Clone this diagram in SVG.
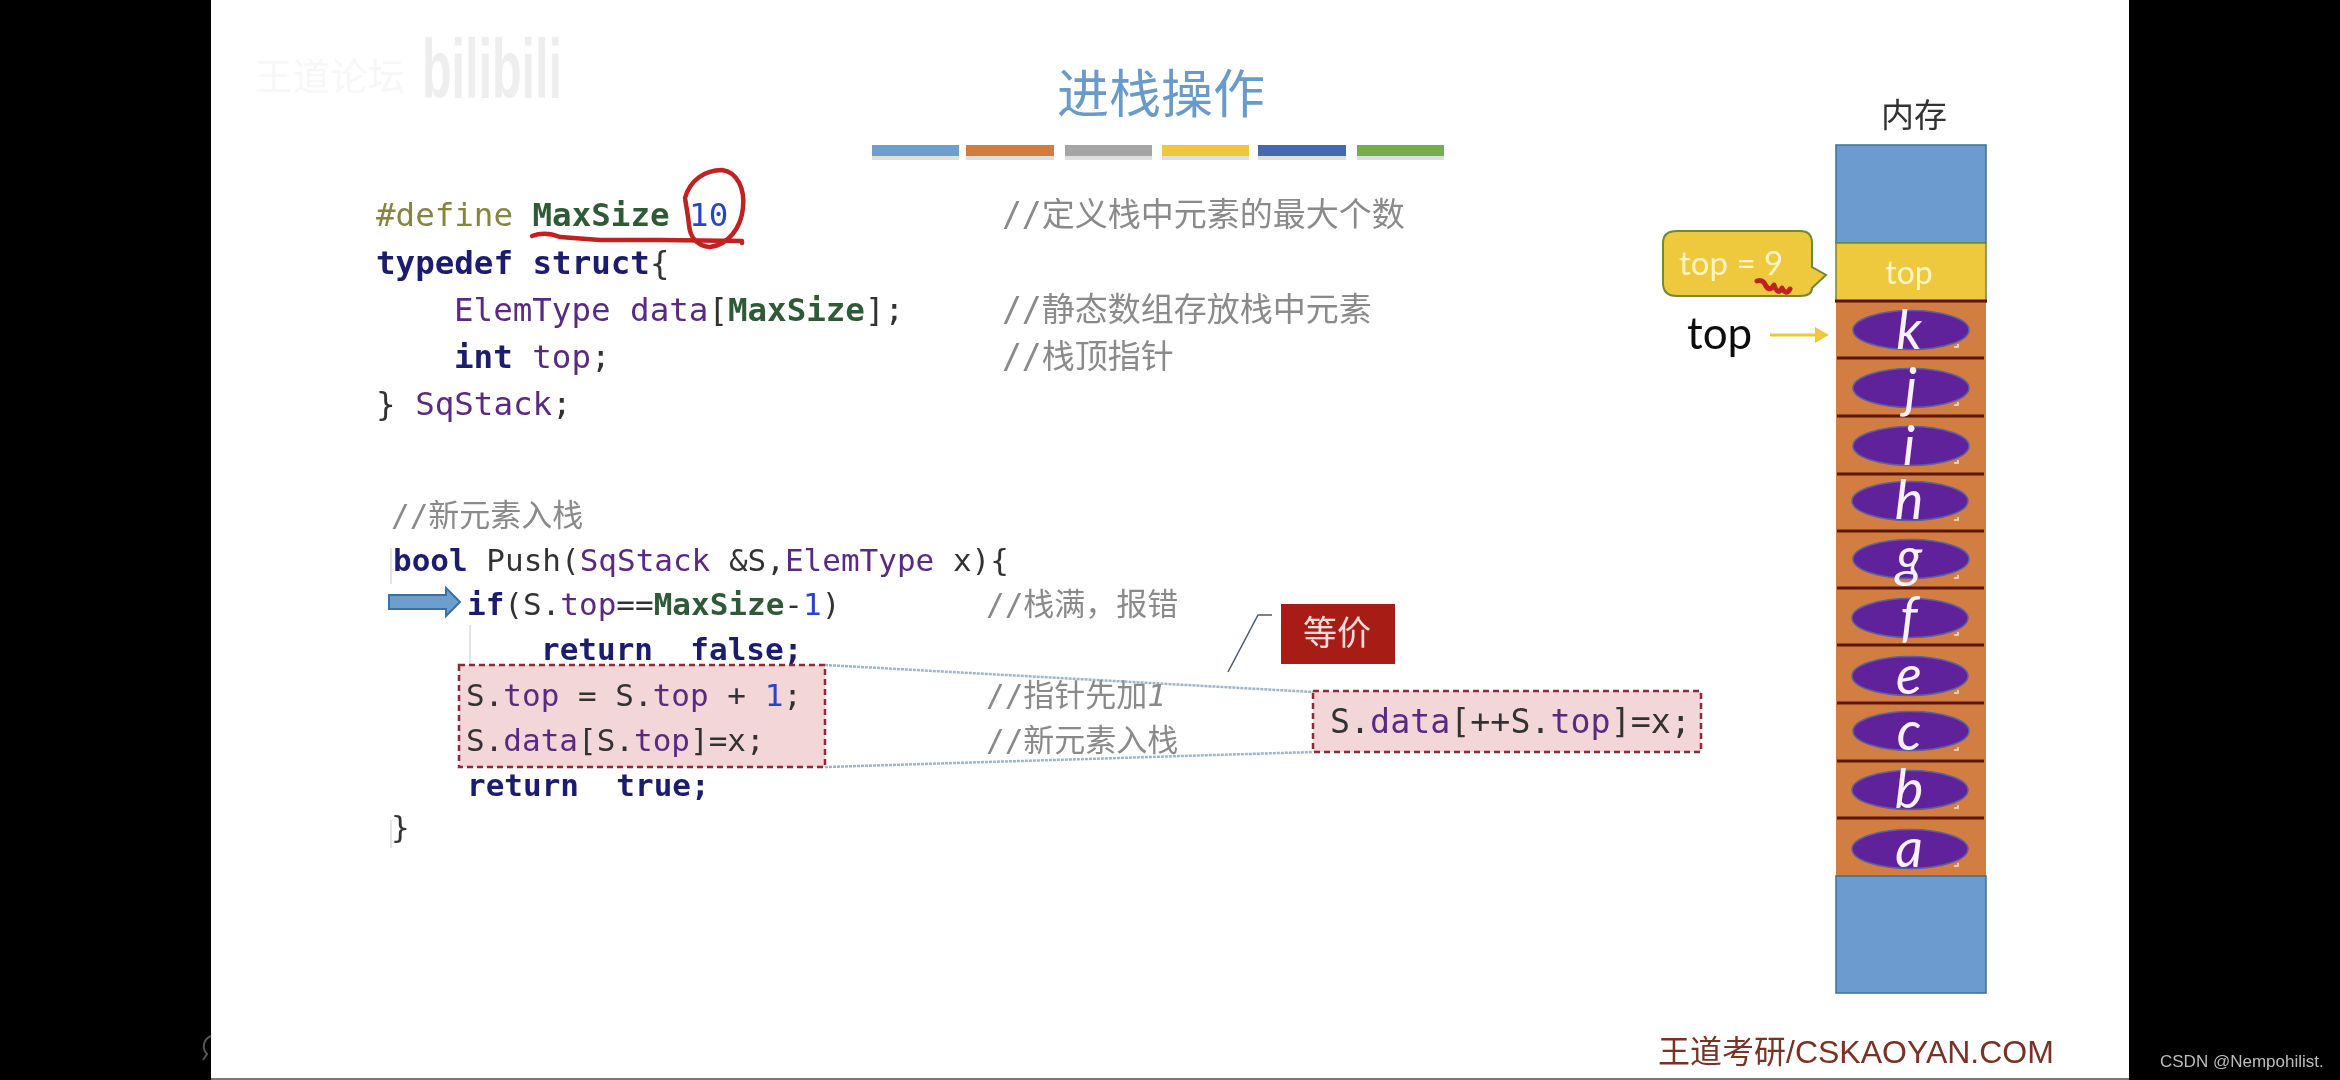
<svg xmlns="http://www.w3.org/2000/svg" width="2340" height="1080" viewBox="0 0 2340 1080">
<defs><filter id="soft" x="0" y="0" width="100%" height="100%"><feGaussianBlur stdDeviation="0.6"/></filter></defs>
<style>
.c{font-family:"DejaVu Sans Mono","Noto Sans CJK SC",monospace;font-size:32.5px;white-space:pre;fill:#333}
.cm{font-family:"DejaVu Sans Mono","Noto Sans CJK SC",monospace;font-size:33px;white-space:pre;fill:#8a8a8a}
.p{font-size:31px}
.k{font-weight:bold;fill:#1c1c6e}
.m{font-weight:bold;fill:#2f5a37}
.f{fill:#5a2a82}
.n{fill:#2b45c4}
.d{fill:#85853f}
.cell{fill:#d27d42}
.sep{stroke:#5a1400;stroke-width:3}
.el{fill:#60249a;stroke:#5d5f9e;stroke-width:1.5}
.let{font-family:"Lato","Liberation Sans",sans-serif;font-style:italic;font-size:54px;fill:#f6f0ff;text-anchor:middle}
.box{fill:#f2d6d8;stroke:#8c2a35;stroke-width:2.5;stroke-dasharray:6 4}
.bar{stroke:none}
.sh{fill:#b8b8b8;opacity:.45}
.ink{fill:none;stroke:#c02020;stroke-linecap:round;stroke-linejoin:round}
.mark{fill:none;stroke:#f6e6d2;stroke-width:1.5}
.guide{stroke:#dcdcdc;stroke-width:1.5}
</style>
<g filter="url(#soft)">
<rect width="2340" height="1080" fill="#000"/>
<rect x="211" y="0" width="1918" height="1078" fill="#fff"/>
<rect x="211" y="1078" width="1918" height="2" fill="#777"/>
<path d="M211 1036A11 11 0 0 0 207 1054L203 1060" fill="none" stroke="#555" stroke-width="2"/>
<g id="watermark" font-family="Noto Sans CJK SC,sans-serif">
<text x="255" y="90" font-size="37.5" fill="#f7f7f7">王道论坛</text>
<text x="422" y="98" font-size="84" font-weight="bold" font-family="Liberation Sans,sans-serif" textLength="140" lengthAdjust="spacingAndGlyphs" fill="#eeeeee">bilibili</text>
</g>
<g id="title">
<text x="1161" y="113" font-size="52" text-anchor="middle" fill="#6a9ac8" font-family="Noto Sans CJK SC,sans-serif">进栈操作</text>
<rect class="sh" x="872" y="156" width="87" height="4"/><rect class="sh" x="966" y="156" width="88" height="4"/><rect class="sh" x="1065" y="156" width="87" height="4"/><rect class="sh" x="1162" y="156" width="87" height="4"/><rect class="sh" x="1258" y="156" width="88" height="4"/><rect class="sh" x="1357" y="156" width="87" height="4"/>
<rect class="bar" x="872" y="145" width="87" height="11" fill="#6c9fce"/>
<rect class="bar" x="966" y="145" width="88" height="11" fill="#d27b3f"/>
<rect class="bar" x="1065" y="145" width="87" height="11" fill="#a5a5a5"/>
<rect class="bar" x="1162" y="145" width="87" height="11" fill="#efc73d"/>
<rect class="bar" x="1258" y="145" width="88" height="11" fill="#4468b0"/>
<rect class="bar" x="1357" y="145" width="87" height="11" fill="#78ad4f"/>
</g>
<g id="struct-code">
<text class="c" x="376" y="226"><tspan class="d">#define</tspan> <tspan class="m">MaxSize</tspan> <tspan class="n">10</tspan></text>
<text class="c" x="376" y="274"><tspan class="k">typedef struct</tspan>{</text>
<text class="c" x="454" y="321"><tspan class="f">ElemType data</tspan>[<tspan class="m">MaxSize</tspan>];</text>
<text class="c" x="454" y="368"><tspan class="k">int</tspan> <tspan class="f">top</tspan>;</text>
<text class="c" x="376" y="415">} <tspan class="f">SqStack</tspan>;</text>
<text class="cm" x="1002" y="226">//定义栈中元素的最大个数</text>
<text class="cm" x="1002" y="321">//静态数组存放栈中元素</text>
<text class="cm" x="1002" y="368">//栈顶指针</text>
</g>
<g id="push-code">
<path class="guide" d="M391 548V584M391 820V848M470 625V665"/>
<text class="cm p" x="391" y="526">//新元素入栈</text>
<text class="c p" x="393" y="571"><tspan class="k">bool</tspan> Push(<tspan class="f">SqStack</tspan> &amp;S,<tspan class="f">ElemType</tspan> x){</text>
<text class="c p" x="467" y="615"><tspan class="k">if</tspan>(S.<tspan class="f">top</tspan>==<tspan class="m">MaxSize</tspan>-<tspan class="n">1</tspan>)</text>
<text class="cm p" x="986" y="615">//栈满，报错</text>
<text class="c p k" x="541" y="660">return  false;</text>
<text class="c p k" x="467" y="796">return  true;</text>
<text class="c p" x="391" y="838">}</text>
</g>
<g id="equal-left">
<rect class="box" x="459" y="665" width="366" height="102"/>
<text class="c p" x="466" y="706">S.<tspan class="f">top</tspan> = S.<tspan class="f">top</tspan> + <tspan class="n">1</tspan>;</text>
<text class="c p" x="466" y="751">S.<tspan class="f">data</tspan>[S.<tspan class="f">top</tspan>]=x;</text>
</g>
<g id="connectors">
<path d="M825 665L1313 692M825 767L1313 752" fill="none" stroke="#9db5c6" stroke-width="2.5" stroke-dasharray="3 1"/>
<path d="M1228 672L1258 615H1272" fill="none" stroke="#4a5a6c" stroke-width="1.5"/>
<path d="M1770 335H1818" stroke="#efc73d" stroke-width="3"/>
<path d="M1815 327L1829 335L1815 343Z" fill="#efc73d"/>
</g>
<g id="arrow"><path d="M389 595H446V588L460 602L446 616V609H389Z" fill="#6c9fce" stroke="#3d6fa5" stroke-width="2"/></g>
<g id="comments2">
<text class="cm p" x="986" y="706">//指针先加<tspan font-style="italic">1</tspan></text>
<text class="cm p" x="986" y="751">//新元素入栈</text>
</g>
<g id="equal-tag">
<rect x="1281" y="604" width="114" height="60" fill="#a81e18"/>
<text x="1337" y="645" font-size="34" fill="#f4dcdc" text-anchor="middle" font-family="Noto Sans CJK SC,sans-serif">等价</text>
</g>
<g id="equal-right">
<rect class="box" x="1313" y="691" width="388" height="61"/>
<text class="c" x="1330" y="733" style="font-size:33.3px">S.<tspan class="f">data</tspan>[++S.<tspan class="f">top</tspan>]=x;</text>
</g>
<g id="memory">
<text x="1914" y="127" font-size="33" text-anchor="middle" fill="#333" font-family="Noto Sans CJK SC,sans-serif">内存</text>
<rect x="1836" y="145" width="150" height="98" fill="#6c9ccf" stroke="#3f6f96" stroke-width="1.5"/>
<rect x="1836" y="243" width="150" height="59" fill="#efc93e" stroke="#6d8a35" stroke-width="1.5"/>
<text x="1909" y="284" font-size="32" text-anchor="middle" fill="#fdf3c4" font-family="Lato,sans-serif">top</text>
<rect class="cell" x="1836" y="302" width="150" height="574"/>
<rect x="1836" y="876" width="150" height="117" fill="#6c9ccf" stroke="#3f6f96" stroke-width="1.5"/>
<path class="sep" d="M1835 301H1987M1837 358H1984M1837 416H1984M1837 474H1984M1837 531H1984M1837 588H1984M1837 645H1984M1837 703H1984M1837 761H1984M1837 818H1984"/>
<path class="mark" d="M1954 347h4v-3M1954 405h4v-3M1954 463h4v-3M1954 520h4v-3M1954 578h4v-3M1954 635h4v-3M1954 693h4v-3M1954 750h4v-3M1954 808h4v-3M1954 866h4v-3"/>
</g>
<g id="node-k"><ellipse class="el" cx="1911" cy="330" rx="58" ry="19.5"/><text class="let" x="1909" y="349">k</text></g>
<g id="node-j"><ellipse class="el" cx="1911" cy="388" rx="58" ry="19.5"/><text class="let" x="1911" y="407">j</text></g>
<g id="node-i"><ellipse class="el" cx="1911" cy="446" rx="58" ry="19.5"/><text class="let" x="1909" y="465">i</text></g>
<g id="node-h"><ellipse class="el" cx="1910" cy="501" rx="58" ry="19.5"/><text class="let" x="1909" y="519">h</text></g>
<g id="node-g"><ellipse class="el" cx="1911" cy="559" rx="58" ry="19.5"/><text class="let" x="1909" y="576">g</text></g>
<g id="node-f"><ellipse class="el" cx="1910" cy="618" rx="58" ry="19.5"/><text class="let" x="1909" y="635">f</text></g>
<g id="node-e"><ellipse class="el" cx="1910" cy="676" rx="58" ry="19.5"/><text class="let" x="1909" y="694">e</text></g>
<g id="node-c"><ellipse class="el" cx="1911" cy="731" rx="58" ry="19.5"/><text class="let" x="1909" y="750">c</text></g>
<g id="node-b"><ellipse class="el" cx="1910" cy="790" rx="58" ry="19.5"/><text class="let" x="1909" y="808">b</text></g>
<g id="node-a"><ellipse class="el" cx="1910" cy="849" rx="58" ry="19.5"/><text class="let" x="1909" y="867">a</text></g>
<g id="callout">
<path d="M1677 231H1800Q1812 231 1812 243V267L1826 275L1812 288Q1812 296 1800 296H1677Q1663 296 1663 283V243Q1663 231 1677 231Z" fill="#efc93e" stroke="#6d8a35" stroke-width="2"/>
<text x="1679" y="275" font-size="33" fill="#fdf3c4" font-family="Lato,sans-serif">top = 9</text>
</g>
<g id="top-label"><text x="1687" y="349" font-size="44" fill="#111" font-family="Lato,sans-serif">top</text></g>
<g id="annotations">
<path class="ink" stroke-width="4.5" d="M685 198C690 180 705 170 722 170C738 172 745 190 743 208C741 228 728 245 710 247C696 246 690 236 689 225C688 215 686 205 685 198"/>
<path class="ink" stroke-width="4.5" d="M532 236Q545 231 560 237L600 240L660 240L742 241L742 243"/>
<path class="ink" stroke-width="5" d="M1757 281Q1763 279 1766 286Q1770 292 1774 285Q1778 296 1782 288Q1786 296 1790 289"/>
</g>
<g id="footer">
<text x="1658" y="1063" font-size="32" fill="#7a3024" font-family="Liberation Sans,Noto Sans CJK SC,sans-serif">王道考研/CSKAOYAN.COM</text>
<text x="2160" y="1067" font-size="17" fill="#bdbdbd" font-family="Liberation Sans,sans-serif">CSDN @Nempohilist.</text>
</g>
</g>
</svg>
